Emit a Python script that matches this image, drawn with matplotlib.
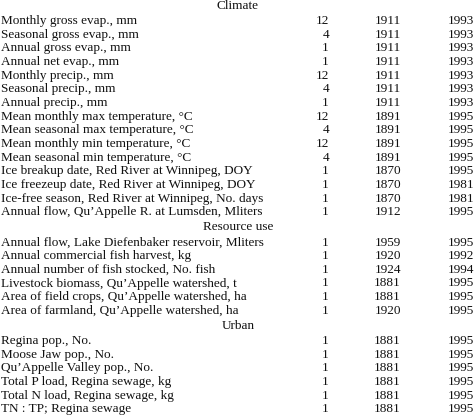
import matplotlib.pyplot as plt

climate_labels = ["Monthly gross evap., mm", "Seasonal gross evap., mm", "Annual gross evap., mm",
                  "Annual net evap., mm", "Monthly precip., mm", "Seasonal precip., mm", "Annual precip., mm",
                  "Mean monthly max temperature, °C", "Mean seasonal max temperature, °C",
                  "Mean monthly min temperature, °C", "Mean seasonal min temperature, °C",
                  "Ice breakup date, Red River at Winnipeg, DOY", "Ice freezeup date, Red River at Winnipeg, DOY",
                  "Ice-free season, Red River at Winnipeg, No. days", "Annual flow, Qu’Appelle R. at Lumsden, Mliters"]
climate_n = [12, 4, 1, 1, 12, 4, 1, 12, 4, 12, 4, 1, 1, 1, 1]
climate_start = [1911, 1911, 1911, 1911, 1911, 1911, 1911, 1891, 1891, 1891, 1891, 1870, 1870, 1870, 1912]
climate_end = [1993, 1993, 1993, 1993, 1993, 1993, 1993, 1995, 1995, 1995, 1995, 1995, 1981, 1981, 1995]

resource_labels = ["Annual flow, Lake Diefenbaker reservoir, Mliters", "Annual commercial fish harvest, kg",
                   "Annual number of fish stocked, No. fish", "Livestock biomass, Qu’Appelle watershed, t",
                   "Area of field crops, Qu’Appelle watershed, ha", "Area of farmland, Qu’Appelle watershed, ha"]
resource_n = [1, 1, 1, 1, 1, 1]
resource_start = [1959, 1920, 1924, 1881, 1881, 1920]
resource_end = [1995, 1992, 1994, 1995, 1995, 1995]

urban_labels = ["Regina pop., No.", "Moose Jaw pop., No.", "Qu’Appelle Valley pop., No.",
                "Total P load, Regina sewage, kg", "Total N load, Regina sewage, kg", "TN : TP; Regina sewage"]
urban_n = [1, 1, 1, 1, 1, 1]
urban_start = [1881, 1881, 1881, 1881, 1881, 1881]
urban_end = [1995] * 6

sections = [("Climate", climate_labels, climate_n, climate_start, climate_end),
            ("Resource use", resource_labels, resource_n, resource_start, resource_end),
            ("Urban", urban_labels, urban_n, urban_start, urban_end)]

fig = plt.figure(figsize=(4.74, 4.17), dpi=100)
ax = fig.add_axes([0, 0, 1, 1])
ax.set_xlim(0, 474)
ax.set_ylim(417, 0)
ax.axis("off")

font = dict(family="Liberation Serif", fontsize=9.5, va="center", color="#111111")
y = 6
step = 13.65
for title, labels, ns, starts, ends in sections:
    ax.text(238, y, title, ha="center", **font)
    y += step + 1.5
    for lab, n, s, e in zip(labels, ns, starts, ends):
        ax.text(1, y, lab, ha="left", **font)
        ax.text(329, y, str(n), ha="right", **font)
        ax.text(401, y, str(s), ha="right", **font)
        ax.text(474, y, str(e), ha="right", **font)
        y += step
    y += 1.5

fig.savefig("out.png", dpi=100)
